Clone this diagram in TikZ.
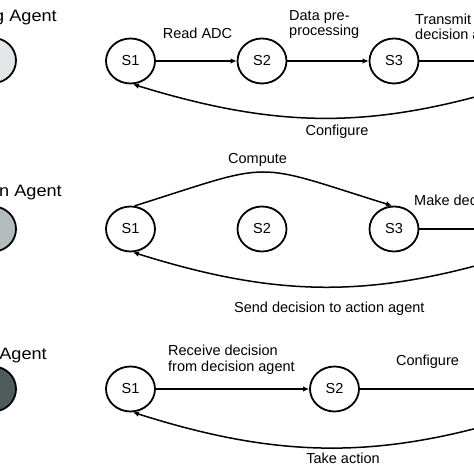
\documentclass[tikz,border=0pt]{standalone}
\usepackage{fontspec}
\setmainfont{Liberation Sans}
\newfontfamily\titlefont[FakeStretch=1.1]{Liberation Sans}
\usetikzlibrary{shapes.geometric,arrows.meta}
\definecolor{agA}{HTML}{E2E6E6}
\definecolor{agB}{HTML}{B3BCBC}
\definecolor{agC}{HTML}{4F5A5C}
\begin{document}
\begin{tikzpicture}[x=1pt,y=1pt,
  state/.style={ellipse,draw,line width=1.8pt,minimum width=49pt,minimum height=45pt,inner sep=0pt,font=\fontsize{14.5}{15.5}\selectfont},
  agent/.style={ellipse,draw,line width=1.8pt,minimum width=46pt,minimum height=45pt,inner sep=0pt},
  lbl/.style={inner sep=0pt,font=\fontsize{14.5}{15.5}\selectfont},
  ttl/.style={inner sep=0pt,font=\titlefont\fontsize{16.5}{18}\selectfont,anchor=base east},
  arr/.style={line width=1.5pt,-{Latex[length=6pt,width=5.5pt]}},
  ln/.style={line width=1.5pt}]
\useasboundingbox (0,0) rectangle (474,474);
\fill[white] (0,0) rectangle (474,474);
\clip (0,0) rectangle (474,474);

% ---------- Row 1: Sensing agent ----------
\node[ttl] (t1) at (57,452) {Sensing Agent};
\node[agent,fill=agA] (g1) at (-7,413.5) {};
\node[state] (a1) at (130.5,413) {S1};
\node[state] (a2) at (262,413) {S2};
\node[state] (a3) at (394,413) {S3};
\coordinate (a4) at (526,413);
\coordinate (a4b) at (523,391);
\draw[arr] (a1) -- (a2);
\draw[arr] (a2) -- (a3);
\draw[ln] (a3) -- (a4);
\draw[arr] (a4b) .. controls (375,344.3) and (281,344.3) .. (a1.-84);
\node[lbl,anchor=base] (l1) at (197.5,435.5) {Read ADC};
\node[lbl,anchor=north west,align=left] (l2) at (289,464) {Data pre-\\processing};
\node[lbl,anchor=north west,align=left] (l3) at (415,460.7) {Transmit\\decision agent};
\node[lbl,anchor=base] (l4) at (337,338.6) {Configure};

% ---------- Row 2: Decision agent ----------
\node[ttl] (t2) at (62,277) {Decision Agent};
\node[agent,fill=agB] (g2) at (-7,245) {};
\node[state] (c1) at (130.5,245) {S1};
\node[state] (c2) at (262,245) {S2};
\node[state] (c3) at (394,245) {S3};
\coordinate (c4) at (526,245);
\coordinate (c4b) at (523,222);
\draw[arr] (c1.80) .. controls (277,313) and (249,313) .. (c3.95);
\draw[ln] (c3) -- (c4);
\draw[arr] (c4b) .. controls (375,175.3) and (281,175.3) .. (c1.-84);
\node[lbl,anchor=base] (m1) at (257.6,310) {Compute};
\node[lbl,anchor=base west] (m2) at (414,268.5) {Make decision};
\node[lbl,anchor=base west] (m3) at (234,161.5) {Send decision to action agent};

% ---------- Row 3: Action agent ----------
\node[ttl] (t3) at (47,114) {Action Agent};
\node[agent,fill=agC] (g3) at (-7,85) {};
\node[state] (b1) at (130.5,85) {S1};
\node[state] (b2) at (334.5,85) {S2};
\coordinate (b3) at (538,85);
\coordinate (b3b) at (535,63);
\draw[arr] (b1) -- (b2);
\draw[ln] (b2) -- (b3);
\draw[arr] (b3b) .. controls (385,14) and (283,14) .. (b1.-84);
\node[lbl,anchor=north west,align=left] (n1) at (168,129) {Receive decision\\from decision agent};
\node[lbl,anchor=base] (n2) at (427.5,108.5) {Configure};
\node[lbl,anchor=base] (n3) at (343,10.5) {Take action};
\end{tikzpicture}
\end{document}
